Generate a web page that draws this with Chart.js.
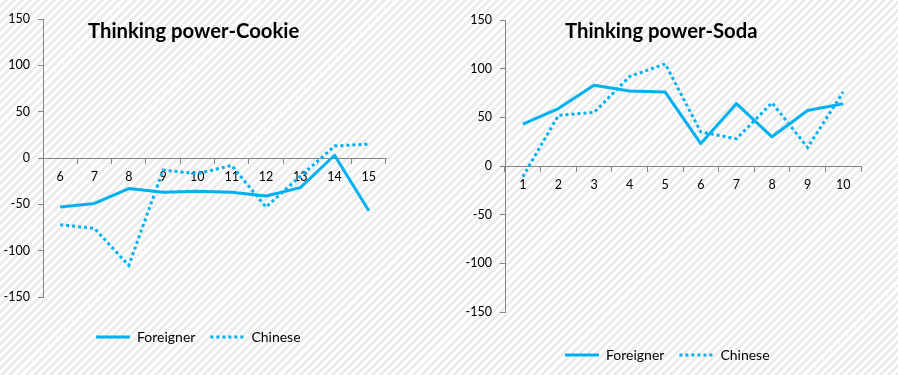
<!DOCTYPE html>
<html>
<head>
<meta charset="utf-8">
<script src="https://cdn.jsdelivr.net/npm/chart.js@4/dist/chart.umd.min.js"></script>
<style>
  html, body { margin: 0; padding: 0; }
  body {
    width: 898px; height: 375px; overflow: hidden; position: relative;
    background: repeating-linear-gradient(135deg, #ffffff 0px, #ffffff 2.9px, #ececec 2.9px, #ececec 5.7px);
  }
  .box { position: absolute; top: 0; height: 375px; }
  #left { left: 0; width: 450px; }
  #right { left: 450px; width: 448px; }
</style>
</head>
<body>
<div class="box" id="left"><canvas id="c1" width="450" height="375"></canvas></div>
<div class="box" id="right"><canvas id="c2" width="448" height="375"></canvas></div>
<script>
// ---- data ----
const cookieTitle = 'Thinking power-Cookie';
const cookieCategories = ['6', '7', '8', '9', '10', '11', '12', '13', '14', '15'];
const cookieForeigner = [-53, -49, -33, -37, -36, -37, -41, -32, 3, -57];
const cookieChinese = [-72, -76, -116, -13, -17, -8, -53, -20, 13, 15];

const sodaTitle = 'Thinking power-Soda';
const sodaCategories = ['1', '2', '3', '4', '5', '6', '7', '8', '9', '10'];
const sodaForeigner = [43, 59, 83, 77, 76, 23, 64, 30, 57, 64];
const sodaChinese = [-11, 52, 55, 92, 105, 35, 28, 65, 19, 76];

const seriesNames = ['Foreigner', 'Chinese'];
const yMin = -150, yMax = 150, yStep = 50;

// ---- styling ----
const LINE_COLOR = '#00B0F0';
const AXIS_COLOR = '#868686';
const FONT = 'Lato';

const titlePlugin = {
  id: 'innerTitle',
  afterLayout(chart, args, opts) {
    // place the legend block horizontally where the reference has it
    const lg = chart.legend;
    if (lg && lg.lineWidths) {
      const p = chart.options.plugins.legend.labels.padding;
      const start = (lg.left + p + lg.right - lg.lineWidths[0]) / 2;
      const dx = opts.legendX - start;
      lg.left += dx; lg.right += dx;
    }
  },
  afterDraw(chart, args, opts) {
    const ctx = chart.ctx;
    ctx.save();
    ctx.font = 'bold 20.3px ' + FONT;
    ctx.fillStyle = '#000';
    ctx.textBaseline = 'middle';
    ctx.textAlign = 'left';
    ctx.fillText(opts.text, opts.x, opts.y);
    ctx.restore();
  }
};

function legendLabels(chart) {
  const items = Chart.defaults.plugins.legend.labels.generateLabels(chart);
  items.forEach((it) => {
    const ds = chart.data.datasets[it.datasetIndex];
    it.lineDash = ds.borderDash || [];
    it.lineWidth = ds.borderWidth;
    it.lineCap = 'butt';
    it.strokeStyle = ds.borderColor;
    it.fillStyle = ds.borderColor;
  });
  return items;
}

function makeChart(canvasId, title, categories, foreigner, chinese, cfg) {
  return new Chart(document.getElementById(canvasId), {
    type: 'line',
    data: {
      labels: categories,
      datasets: [
        {
          label: seriesNames[0],
          data: foreigner,
          borderColor: LINE_COLOR,
          backgroundColor: LINE_COLOR,
          borderWidth: 3,
          pointRadius: 0,
          pointStyle: 'line',
          tension: 0,
          borderJoinStyle: 'round'
        },
        {
          label: seriesNames[1],
          data: chinese,
          borderColor: LINE_COLOR,
          backgroundColor: LINE_COLOR,
          borderWidth: 3,
          borderDash: [3, 3],
          pointRadius: 0,
          pointStyle: 'line',
          tension: 0
        }
      ]
    },
    options: {
      responsive: false,
      animation: false,
      events: [],
      layout: { padding: cfg.padding },
      scales: {
        x: {
          type: 'category',
          position: { y: 0 },
          offset: true,
          grid: { offset: true, drawOnChartArea: false, drawTicks: true, tickLength: 5, color: AXIS_COLOR },
          border: { display: true, color: AXIS_COLOR, width: 1 },
          ticks: { color: '#000', font: { family: FONT, size: 12.5 }, padding: 6, maxRotation: 0, autoSkip: false }
        },
        y: {
          type: 'linear',
          min: yMin, max: yMax,
          afterFit: (s) => { s.width = cfg.yWidth; },
          grid: { drawOnChartArea: false, drawTicks: true, tickLength: 5, color: AXIS_COLOR },
          border: { display: true, color: AXIS_COLOR, width: 1 },
          ticks: { stepSize: yStep, color: '#000', font: { family: FONT, size: 12.5 }, padding: 8 }
        }
      },
      plugins: {
        legend: {
          position: 'bottom',
          title: { display: true, text: ' ', font: { size: 10 }, padding: { top: cfg.legendTitlePad, bottom: 0 } },
          labels: {
            usePointStyle: true,
            pointStyle: 'line',
            pointStyleWidth: 34,
            padding: 15,
            color: '#000',
            font: { family: FONT, size: 14 },
            generateLabels: legendLabels
          }
        },
        tooltip: { enabled: false },
        innerTitle: { text: title, x: cfg.titleX, y: cfg.titleY, legendX: cfg.legendX }
      }
    },
    plugins: [titlePlugin]
  });
}

makeChart('c1', cookieTitle, cookieCategories, cookieForeigner, cookieChinese, {
  padding: { left: 0, right: 64, top: 19, bottom: 21 },
  yWidth: 43,
  legendTitlePad: 6,
  legendX: 96,
  titleX: 88, titleY: 31
});

makeChart('c2', sodaTitle, sodaCategories, sodaForeigner, sodaChinese, {
  padding: { left: 0, right: 37, top: 20, bottom: 3 },
  yWidth: 55,
  legendTitlePad: 9,
  legendX: 115,
  titleX: 115, titleY: 31
});
</script>
</body>
</html>
